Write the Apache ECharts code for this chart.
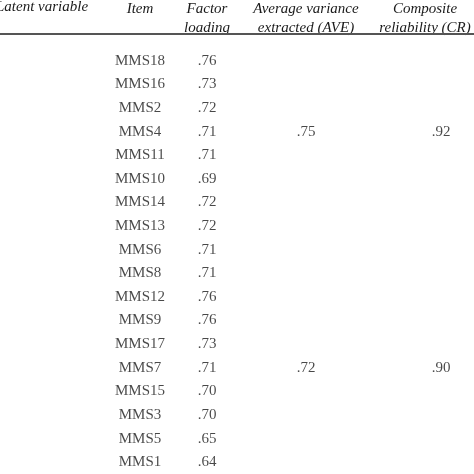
<!DOCTYPE html><html><head><meta charset="utf-8"><script src="https://cdn.jsdelivr.net/npm/echarts@6/dist/echarts.min.js"></script>
<style>html,body{margin:0;background:#fff}#c{width:474px;height:474px}</style></head><body><div id="c"></div><script>
const items=['MMS18','MMS16','MMS2','MMS4','MMS11','MMS10','MMS14','MMS13','MMS6','MMS8','MMS12','MMS9','MMS17','MMS7','MMS15','MMS3','MMS5','MMS1'];
const loadings=['.76','.73','.72','.71','.71','.69','.72','.72','.71','.71','.76','.76','.73','.71','.70','.70','.65','.64'];
const latentVars=['Enjoyment','Self-Perceptions'];
const latentRows=['MMS4','MMS7'];
const ave=['.75','.72'];
const cr=['.92','.90'];
const headers=['Latent variable','Item','Factor\nloading','Average variance\nextracted (AVE)','Composite\nreliability (CR)'];
const X={lat:-1,item:140,load:207,ave:306,cr:441,crHead:425};
const font={fontFamily:'Liberation Serif',fontSize:15,color:'#1a1a1a'};
function lab(align){return {show:true,position:'inside',align:align||'center',verticalAlign:'middle',formatter:p=>p.data.t,...font};}
const ch=echarts.init(document.getElementById('c'));
const base={type:'scatter',symbolSize:1,itemStyle:{color:'rgba(0,0,0,0)'}};
const hf='italic 15px "Liberation Serif"';
ch.setOption({
 animation:false,
 grid:{left:0,right:0,top:49,bottom:-4},
 xAxis:{type:'value',min:0,max:474,show:false},
 yAxis:{type:'category',data:items,inverse:true,show:false},
 series:[
  {...base,label:lab(),data:items.map(s=>({value:[X.item,s],t:s}))},
  {...base,label:lab(),data:loadings.map((s,i)=>({value:[X.load,items[i]],t:s}))},
  {...base,label:lab('left'),data:latentVars.map((s,i)=>({value:[X.lat,latentRows[i]],t:s}))},
  {...base,label:lab(),data:ave.map((s,i)=>({value:[X.ave,latentRows[i]],t:s}))},
  {...base,label:lab(),data:cr.map((s,i)=>({value:[X.cr,latentRows[i]],t:s}))}
 ],
 graphic:[
  {type:'text',x:-4,y:0,style:{text:headers[0],font:hf,fill:'#1a1a1a'}},
  {type:'text',x:X.item,y:0,style:{text:headers[1],font:hf,fill:'#1a1a1a',align:'center',lineHeight:19}},
  {type:'text',x:X.load,y:0,style:{text:headers[2],font:hf,fill:'#1a1a1a',align:'center',lineHeight:19}},
  {type:'text',x:X.ave,y:0,style:{text:headers[3],font:hf,fill:'#1a1a1a',align:'center',lineHeight:19}},
  {type:'text',x:X.crHead,y:0,style:{text:headers[4],font:hf,fill:'#1a1a1a',align:'center',lineHeight:19}},
  {type:'rect',shape:{x:0,y:33,width:474,height:2},style:{fill:'#555'}}
 ]
});
</script></body></html>
